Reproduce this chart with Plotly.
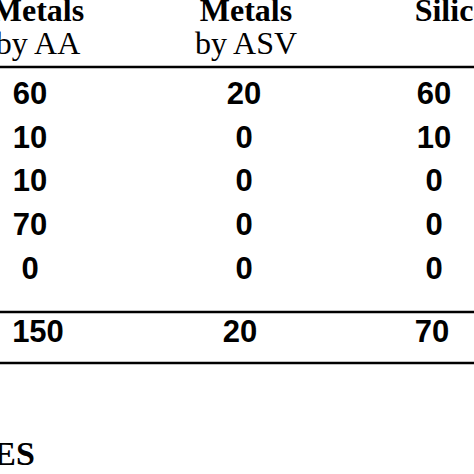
import plotly.graph_objects as go

headers_line1 = ["Metals", "Metals", "Silica"]
headers_line2 = ["by AA", "by ASV", ""]
metals_aa = [60, 10, 10, 70, 0]
metals_asv = [20, 0, 0, 0, 0]
silica = [60, 10, 0, 0, 0]
totals = [150, 20, 70]
footer = "ES"

col_x = [30, 244, 434]
head_x = [38, 246, 452]
row_y = [96, 140, 183, 227, 271]
total_y = 334

fig = go.Figure()
fh = 32
fs = 31
fig.add_trace(go.Scatter(x=head_x, y=[13]*3, text=headers_line1, mode="text",
    textfont=dict(family="Liberation Serif", size=fh, color="black", weight="bold"), textposition="middle center"))
fig.add_trace(go.Scatter(x=head_x, y=[46]*3, text=headers_line2, mode="text",
    textfont=dict(family="Liberation Serif", size=fh, color="black"), textposition="middle center"))
for cx, col in zip(col_x, [metals_aa, metals_asv, silica]):
    fig.add_trace(go.Scatter(x=[cx]*len(col), y=row_y, text=[str(v) for v in col], mode="text",
        textfont=dict(family="Liberation Sans", size=fs, color="black", weight="bold"),
        textposition="middle center"))
fig.add_trace(go.Scatter(x=[38, 240, 432], y=[total_y]*3, text=[str(v) for v in totals], mode="text",
    textfont=dict(family="Liberation Sans", size=fs, color="black", weight="bold"), textposition="middle center"))
fig.add_trace(go.Scatter(x=[14], y=[456], text=[footer], mode="text",
    textfont=dict(family="Liberation Serif", size=34, color="black", weight="bold"), textposition="middle center"))

for y, w in [(67, 2.5), (312, 2.5), (363, 2.5)]:
    fig.add_shape(type="line", x0=0, x1=474, y0=y, y1=y, line=dict(color="black", width=w))

fig.update_layout(width=474, height=474, margin=dict(l=0, r=0, t=0, b=0),
    paper_bgcolor="white", plot_bgcolor="white", showlegend=False,
    xaxis=dict(range=[0, 474], visible=False, fixedrange=True),
    yaxis=dict(range=[474, 0], visible=False, fixedrange=True))
fig.write_html("out.html", config={"displayModeBar": False},
               post_script="document.body.style.margin='0';document.body.style.overflow='hidden';")
